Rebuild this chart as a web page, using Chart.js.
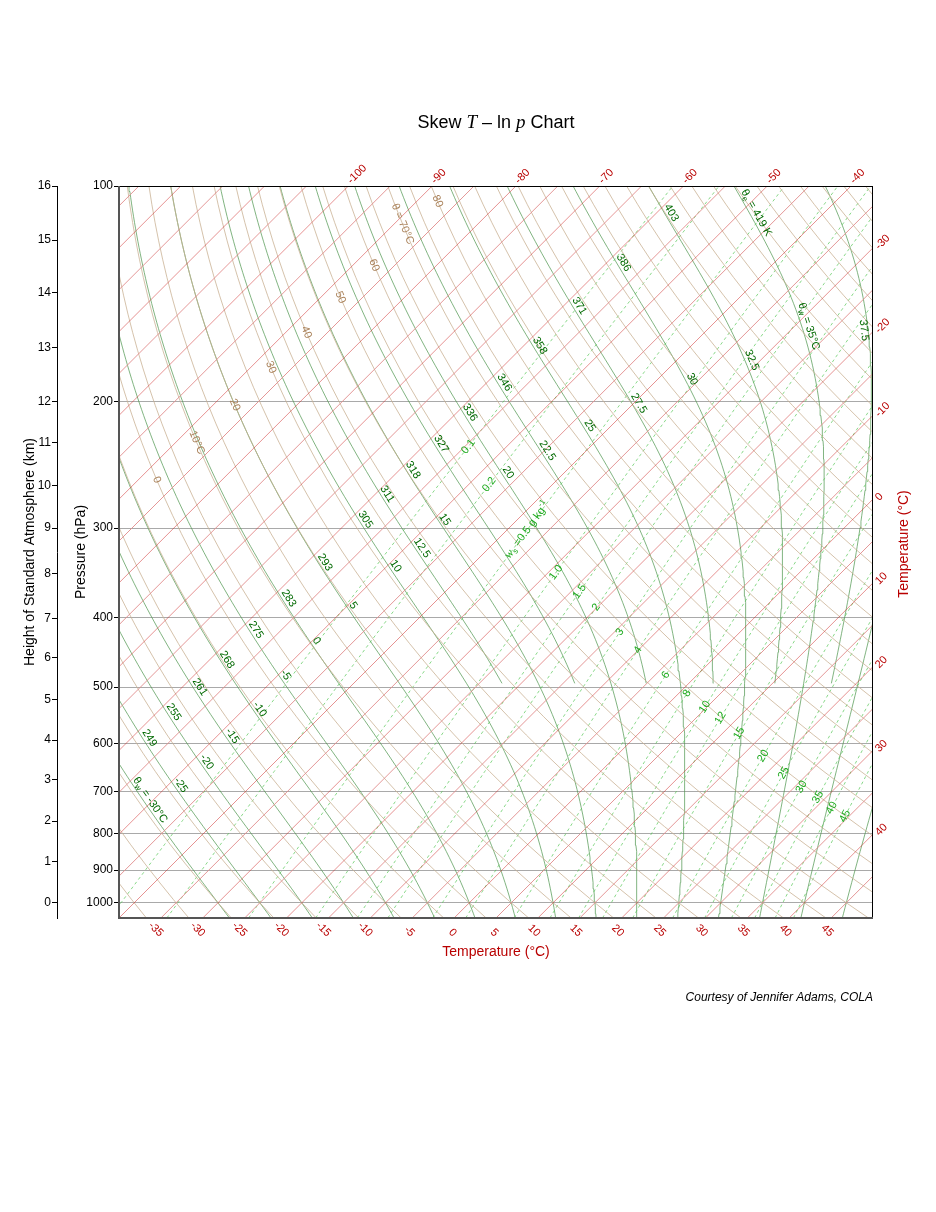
<!DOCTYPE html>
<html><head><meta charset="utf-8">
<script src="https://cdn.jsdelivr.net/npm/chart.js@4.4.0/dist/chart.umd.min.js"></script>
<style>html,body{margin:0;padding:0;background:#fff}#wrap{width:936px;height:1212px;position:relative}canvas{display:block}</style>
</head><body>
<div id="wrap"><canvas id="c" width="936" height="1212"></canvas></div>
<script>
// ---------------- data ----------------
const pressureLevels = [100,200,300,400,500,600,700,800,900,1000];
const heightKm = [0,1,2,3,4,5,6,7,8,9,10,11,12,13,14,15,16];
const heightPressure = [1000,877,769,674,593,520,455,401,347,300,262,228,200,168,141,119,100];
const isothermsC = [-125,-120,-115,-110,-105,-100,-95,-90,-85,-80,-75,-70,-65,-60,-55,-50,-45,-40,-35,-30,-25,-20,-15,-10,-5,0,5,10,15,20,25,30,35,40,45,50];
const bottomTempTicks = [-35,-30,-25,-20,-15,-10,-5,0,5,10,15,20,25,30,35,40,45];
const topTempTicks = [-100,-90,-80,-70,-60,-50,-40];
const rightTempTicks = [-30,-20,-10,0,10,20,30,40];
const dryThetaC = [-40,-35,-30,-25,-20,-15,-10,-5,0,5,10,15,20,25,30,35,40,45,50,55,60,65,70,75,80,85,90,95,100,105,110,115,120,125,130,135,140,145,150,155,160,165,170,175,180];
const dryLabelTheta = [0,10,20,30,40,50,60,70,80];
const dryLabelText = ['0','10°C','20','30','40','50','60','θ = 70°C','80'];
const dryLabelP = [257,228,202,179,160,143,129,113,105];
const moistThetaW = [-30,-25,-20,-15,-10,-5,0,5,10,15,20,25,30,35,40,45];
const moistHalfThetaW = [12.5,17.5,22.5,27.5,32.5,37.5];
const moistHalfBottomP = 500;
const thetaELabelW = [-25,-20,-15,-10,-5,0,5,10,12.5,15,17.5,20,22.5,25,27.5,30,32.5,35];
const thetaELabelText = ['249','255','261','268','275','283','293','305','311','318','327','336','346','358','371','386','403','θ_{e} = 419 K'];
const thetaELabelP = [589,542,500,458,416,376,335,292,269,249,229,207,188,167,147,128,109,109];
const thetaWLabelW = [-30,-25,-20,-15,-10,-5,0,5,10,12.5,15,20,22.5,25,27.5,30,32.5,35,37.5];
const thetaWLabelText = ['θ_{w} = -30°C','-25','-20','-15','-10','-5','0','5','10','12.5','15','20','22.5','25','27.5','30','32.5','θ_{w} = 35°C','37.5'];
const thetaWLabelP = [719,685,636,585,537,481,431,385,339,320,292,251,234,216,201,186,175,157,159];
const mixingRatio = [0.1,0.2,0.5,1,1.5,2,3,4,6,8,10,12,15,20,25,30,35,40,45];
const mixLabelW = [0.1,0.2,0.5,1,1.5,2,3,4,6,8,10,12,15,20,25,30,35,40,45];
const mixLabelText = ['0.1','0.2','*w*_{s} =0.5 g kg^{-1}','1.0','1.5','2','3','4','6','8','10','12','15','20','25','30','35','40','45'];
const mixLabelP = [231,261,302,346,368,387,419,444,481,510,533,552,580,624,659,689,712,737,757];

// ---------------- thermodynamics / skew ----------------
const P_BOT = 1050, P_TOP = 100, K = 37.16;
const Rd = 287.04, CP = 1005.7, EPS = 0.622, KAP = Rd / CP;
const LVf = Tc => 2.501e6 - 2370 * Tc;
const skewX = (T, p) => T + K * Math.log(P_BOT / p);
const es = Tc => 6.112 * Math.exp(17.67 * Tc / (Tc + 243.5));
const dryT = (th, p) => (th + 273.15) * Math.pow(p / 1000, KAP) - 273.15;
const mixT = (w, p) => { const e = (w / 1000) * p / EPS; const l = Math.log(e / 6.112); return 243.5 * l / (17.67 - l); };
function fMoist(lnp, T) {
  const p = Math.exp(lnp); const e = es(T - 273.15); const r = EPS * e / (p - e); const L = LVf(T - 273.15);
  return (Rd * T + L * r) / (CP + L * L * r * EPS / (Rd * T * T));
}
function rk4(y, T, h) {
  const k1 = fMoist(y, T), k2 = fMoist(y + h / 2, T + h * k1 / 2), k3 = fMoist(y + h / 2, T + h * k2 / 2), k4 = fMoist(y + h, T + h * k3);
  return T + h * (k1 + 2 * k2 + 2 * k3 + k4) / 6;
}
function moistProfile(tw) {
  const h = 0.005; const up = []; const down = [];
  let y = Math.log(1000), T = tw + 273.15; up.push([y, T]);
  while (y > Math.log(P_TOP) - 1e-9) { T = rk4(y, T, -h); y -= h; up.push([y, T]); }
  y = Math.log(1000); T = tw + 273.15;
  while (y < Math.log(P_BOT) + h) { T = rk4(y, T, h); y += h; down.push([y, T]); }
  return down.reverse().concat(up); // decreasing lnp
}
const moistProfiles = {};
moistThetaW.concat(moistHalfThetaW).forEach(w => moistProfiles[w] = moistProfile(w));
function moistT(tw, p) {
  const prof = moistProfiles[tw]; const l = Math.log(p);
  for (let i = 0; i < prof.length - 1; i++) {
    const a = prof[i], b = prof[i + 1];
    if (l <= a[0] && l >= b[0]) { const f = (a[0] - l) / (a[0] - b[0]); return a[1] + f * (b[1] - a[1]) - 273.15; }
  }
  return prof[prof.length - 1][1] - 273.15;
}
const logPs = n => { const a = []; for (let i = 0; i <= n; i++) a.push(P_BOT * Math.pow(P_TOP / P_BOT, i / n)); return a; };

// ---------------- datasets ----------------
const ds = [];
isothermsC.forEach(T => ds.push({
  data: [P_BOT, P_TOP].map(p => ({ x: skewX(T, p), y: p })),
  borderColor: T % 10 === 0 ? 'rgba(205,40,40,0.85)' : 'rgba(225,140,140,0.9)',
  borderWidth: T % 10 === 0 ? 0.6 : 1
}));
dryThetaC.forEach(th => ds.push({
  data: logPs(40).map(p => ({ x: skewX(dryT(th, p), p), y: p })),
  borderColor: 'rgba(200,175,145,0.85)', borderWidth: 0.9
}));
mixingRatio.forEach(w => ds.push({
  data: logPs(30).map(p => ({ x: skewX(mixT(w, p), p), y: p })),
  borderColor: 'rgba(90,200,90,0.9)', borderWidth: 0.8, borderDash: [3, 3]
}));
const moistPts = (w, pMax) => moistProfiles[w].filter((r, i) => i % 4 === 0 && Math.exp(r[0]) <= pMax + 0.01)
  .map(([l, T]) => ({ x: skewX(T - 273.15, Math.exp(l)), y: Math.exp(l) }));
moistThetaW.forEach(w => ds.push({ data: moistPts(w, P_BOT + 10), borderColor: 'rgba(80,150,80,0.9)', borderWidth: 0.8 }));
moistHalfThetaW.forEach(w => ds.push({ data: moistPts(w, moistHalfBottomP), borderColor: 'rgba(80,150,80,0.9)', borderWidth: 0.8 }));
ds.forEach(d => { d.showLine = true; d.pointRadius = 0; d.fill = false; d.tension = 0; });

// ---------------- text helpers ----------------
const FAM = '"Liberation Sans", Arial, Helvetica, sans-serif';
function parseRich(s, size, style) {
  style = style || '';
  const parts = []; let i = 0, buf = '';
  const base = `${style} ${size}px ${FAM}`, small = `${style} ${Math.round(size * 0.72)}px ${FAM}`;
  const flush = () => { if (buf) { parts.push({ t: buf, font: base, dy: 0 }); buf = ''; } };
  while (i < s.length) {
    const c = s[i];
    if ((c === '_' || c === '^') && s[i + 1] === '{') { flush(); const j = s.indexOf('}', i); parts.push({ t: s.slice(i + 2, j), font: small, dy: c === '_' ? size * 0.3 : -size * 0.38 }); i = j + 1; continue; }
    if (c === '*') { flush(); const j = s.indexOf('*', i + 1); parts.push({ t: s.slice(i + 1, j), font: `italic ${size + 1}px "Liberation Serif", "Times New Roman", serif`, dy: 0 }); i = j + 1; continue; }
    buf += c; i++;
  }
  flush(); return parts;
}
function drawRich(ctx, parts, x, y, ang, color, align, bg) {
  ctx.save(); ctx.translate(x, y); ctx.rotate(ang || 0);
  let w = 0; parts.forEach(pt => { ctx.font = pt.font; pt.w = ctx.measureText(pt.t).width; w += pt.w; });
  let cx = align === 'left' ? 0 : align === 'right' ? -w : -w / 2;
  if (bg) { ctx.fillStyle = '#fff'; ctx.fillRect(cx - 1, -5, w + 2, 10); }
  ctx.fillStyle = color; ctx.textBaseline = 'middle'; ctx.textAlign = 'left';
  parts.forEach(pt => { ctx.font = pt.font; ctx.fillText(pt.t, cx, pt.dy); cx += pt.w; });
  ctx.restore();
}

const RED = 'rgb(185,0,0)';
const decor = {
  id: 'decor',
  afterDatasetsDraw(chart) {
    const { ctx, chartArea: a, scales: { x, y } } = chart;
    const P = (T, p) => [x.getPixelForValue(skewX(T, p)), y.getPixelForValue(p)];
    const lineLabel = (fn, p, text, color, upward, dx) => {
      const [x0, y0] = P(fn(p), p);
      const [x1, y1] = P(fn(p * 0.97), p * 0.97), [x2, y2] = P(fn(p * 1.03), p * 1.03);
      let ang = upward ? Math.atan2(y1 - y2, x1 - x2) : Math.atan2(y2 - y1, x2 - x1);
      const lx = Math.min(x0 + (dx || 0), a.right - 9);
      ctx.save(); ctx.beginPath(); ctx.rect(a.left, a.top, a.right - a.left, a.bottom - a.top); ctx.clip();
      drawRich(ctx, parseRich(text, 11), lx, y0, ang, color, 'center', false);
      ctx.restore();
    };
    dryLabelTheta.forEach((th, i) => lineLabel(p => dryT(th, p), dryLabelP[i], dryLabelText[i], 'rgb(170,130,90)', false, 0));
    thetaELabelW.forEach((w, i) => lineLabel(p => moistT(w, p), thetaELabelP[i], thetaELabelText[i], 'rgb(0,105,0)', false, 7));
    thetaWLabelW.forEach((w, i) => lineLabel(p => moistT(w, p), thetaWLabelP[i], thetaWLabelText[i], 'rgb(0,105,0)', false, 7));
    mixLabelW.forEach((w, i) => lineLabel(p => mixT(w, p), mixLabelP[i], mixLabelText[i], 'rgb(30,170,30)', true, 0));

    // frame
    ctx.save();
    ctx.strokeStyle = '#000'; ctx.lineWidth = 1;
    ctx.beginPath(); ctx.moveTo(a.left, a.top + 0.5); ctx.lineTo(a.right, a.top + 0.5); ctx.moveTo(a.right - 0.5, a.top); ctx.lineTo(a.right - 0.5, a.bottom); ctx.stroke();
    ctx.strokeStyle = '#555'; ctx.lineWidth = 2;
    ctx.beginPath(); ctx.moveTo(a.left, a.top); ctx.lineTo(a.left, a.bottom); ctx.lineTo(a.right, a.bottom); ctx.stroke();
    ctx.restore();

    // edge temperature labels
    bottomTempTicks.forEach(T => {
      const px = x.getPixelForValue(T);
      drawRich(ctx, parseRich(String(T), 11), px + 0.5, a.bottom + 17, Math.PI / 4, RED, 'right');
    });
    topTempTicks.forEach(T => {
      const px = x.getPixelForValue(skewX(T, P_TOP));
      drawRich(ctx, parseRich(String(T), 11), px + 1, a.top - 4, -Math.PI / 4, RED, 'left');
    });
    rightTempTicks.forEach(T => {
      const p = P_BOT / Math.exp((x.max - T) / K);
      const py = y.getPixelForValue(p);
      drawRich(ctx, parseRich(String(T), 11), a.right + 4, py, -Math.PI / 4, RED, 'left');
    });
    drawRich(ctx, parseRich('Temperature (°C)', 14), (a.left + a.right) / 2, a.bottom + 34, 0, RED, 'center');
    drawRich(ctx, parseRich('Temperature (°C)', 14), a.right + 31, (a.top + a.bottom) / 2 - 8, -Math.PI / 2, RED, 'center');
    // title and footer
    drawRich(ctx, parseRich('Skew *T* – ln *p* Chart', 18), (a.left + a.right) / 2, 123, 0, '#000', 'center');
    drawRich(ctx, parseRich('Courtesy of Jennifer Adams, COLA', 12, 'italic'), a.right, 998, 0, '#000', 'right');
  }
};

new Chart(document.getElementById('c'), {
  type: 'scatter',
  data: { datasets: ds },
  options: {
    responsive: false, animation: false, events: [],
    layout: { padding: { left: 10, top: 186, right: 63, bottom: 294 } },
    plugins: { legend: { display: false }, tooltip: { enabled: false } },
    scales: {
      x: { type: 'linear', min: -40, max: 50, display: false },
      y: {
        type: 'logarithmic', position: 'left', reverse: true, min: P_TOP, max: P_BOT,
        afterBuildTicks: s => { s.ticks = pressureLevels.map(v => ({ value: v })); },
        afterFit: s => { s.width = 62; },
        ticks: { autoSkip: false, padding: 1, color: '#000', font: { size: 12, family: FAM }, callback: v => String(v) },
        grid: { drawOnChartArea: true, tickLength: 5, color: 'rgba(160,160,160,0.9)', tickColor: '#000', lineWidth: 1 },
        border: { display: false },
        title: { display: true, text: 'Pressure (hPa)', color: '#000', font: { size: 14, family: FAM }, padding: { top: 16, bottom: 0 } }
      },
      yh: {
        type: 'logarithmic', position: 'left', reverse: true, min: P_TOP, max: P_BOT,
        afterBuildTicks: s => { s.ticks = heightPressure.map(v => ({ value: v })); },
        afterFit: s => { s.width = 47; },
        ticks: { autoSkip: false, padding: 1, color: '#000', font: { size: 12, family: FAM },
          callback: (v) => { const i = heightPressure.indexOf(v); return i >= 0 ? String(heightKm[i]) : ''; } },
        grid: { drawOnChartArea: false, tickLength: 5, color: '#000', tickColor: '#000' },
        border: { display: true, color: '#000', width: 1 },
        title: { display: true, text: 'Height of Standard Atmosphere (km)', color: '#000', font: { size: 14, family: FAM }, padding: { top: 12, bottom: 0 } }
      }
    }
  },
  plugins: [decor]
});
</script>
</body></html>
